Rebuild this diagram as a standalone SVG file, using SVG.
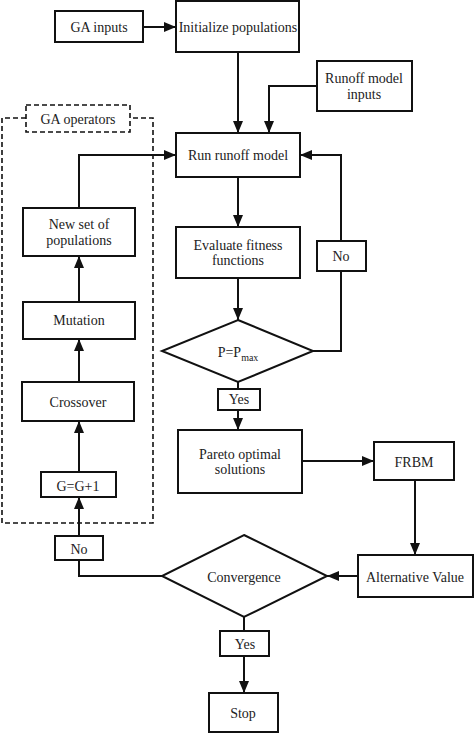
<svg xmlns="http://www.w3.org/2000/svg" width="474" height="733" viewBox="0 0 474 733">
<defs>
<marker id="ah" markerUnits="userSpaceOnUse" markerWidth="13" markerHeight="11" refX="12" refY="5" orient="auto">
<path d="M0,0 L12,5 L0,10 z" fill="#111"/>
</marker>
</defs>
<style>
.box{fill:#fff;stroke:#111;stroke-width:2}
.dash{fill:#fff;stroke:#111;stroke-width:1.6;stroke-dasharray:5,3}
.c{fill:none;stroke:#111;stroke-width:2}
.a{marker-end:url(#ah)}
.t{font-family:'Liberation Serif',serif;font-size:14px;fill:#222;text-anchor:middle}
</style>
<rect width="474" height="733" fill="#fff"/>
<g id="ga-operators-frame">
<path class="dash" style="fill:none" d="M26,118 H2 V523 H153 V118 H130"/>
</g>
<g id="connectors">
<path class="c a" d="M143,27 H176"/>
<path class="c a" d="M238,52 V133"/>
<path class="c a" d="M317,86 H269 V133"/>
<path class="c a" d="M238,177 V227"/>
<path class="c a" d="M238,278 V320"/>
<path class="c" d="M238,382 V389"/>
<path class="c a" d="M238,410 V430"/>
<path class="c" d="M313,351 H341 V271"/>
<path class="c a" d="M341,241 V155 H300"/>
<path class="c a" d="M302,461 H374"/>
<path class="c a" d="M415,480 V555"/>
<path class="c a" d="M358,576 H327"/>
<path class="c" d="M162,576 H79 V560"/>
<path class="c a" d="M79,536 V497"/>
<path class="c a" d="M79,472 V421"/>
<path class="c a" d="M79,382 V339"/>
<path class="c a" d="M79,302 V256"/>
<path class="c a" d="M79,208 V155 H176"/>
<path class="c" d="M244,617 V631"/>
<path class="c a" d="M244,656 V693"/>
</g>
<g id="ga-operators"><rect class="dash" x="26" y="105" width="104" height="27"/><text class="t" x="78" y="124">GA operators</text></g>
<g id="ga-inputs"><rect class="box" x="55" y="11" width="88" height="31"/><text class="t" x="99" y="32">GA inputs</text></g>
<g id="initialize"><rect class="box" x="176" y="1" width="123" height="51"/><text class="t" x="238" y="32">Initialize populations</text></g>
<g id="runoff-inputs"><rect class="box" x="317" y="61" width="95" height="50"/><text class="t" x="364" y="83">Runoff model</text><text class="t" x="364" y="99">inputs</text></g>
<g id="run-runoff"><rect class="box" x="176" y="133" width="124" height="44"/><text class="t" x="238" y="160">Run runoff model</text></g>
<g id="evaluate"><rect class="box" x="176" y="227" width="124" height="51"/><text class="t" x="238" y="250">Evaluate fitness</text><text class="t" x="238" y="265">functions</text></g>
<g id="no-upper"><rect class="box" x="317" y="241" width="49" height="30"/><text class="t" x="341" y="261">No</text></g>
<g id="p-pmax"><path class="box" d="M238,320 L313,351 L238,382 L162,351 z"/><text class="t" x="238" y="357">P=P<tspan font-size="10" dy="4">max</tspan></text></g>
<g id="yes-upper"><rect class="box" x="218" y="389" width="42" height="21"/><text class="t" x="239" y="404">Yes</text></g>
<g id="pareto"><rect class="box" x="178" y="430" width="124" height="63"/><text class="t" x="240" y="459">Pareto optimal</text><text class="t" x="240" y="474">solutions</text></g>
<g id="frbm"><rect class="box" x="374" y="442" width="80" height="38"/><text class="t" x="414" y="467">FRBM</text></g>
<g id="new-set"><rect class="box" x="23" y="208" width="112" height="48"/><text class="t" x="79" y="229">New set of</text><text class="t" x="79" y="245">populations</text></g>
<g id="mutation"><rect class="box" x="23" y="302" width="112" height="37"/><text class="t" x="79" y="325">Mutation</text></g>
<g id="crossover"><rect class="box" x="22" y="382" width="112" height="39"/><text class="t" x="78" y="407">Crossover</text></g>
<g id="g-plus"><rect class="box" x="41" y="472" width="75" height="25"/><text class="t" x="78" y="491">G=G+1</text></g>
<g id="no-lower"><rect class="box" x="55" y="536" width="48" height="24"/><text class="t" x="79" y="554">No</text></g>
<g id="convergence"><path class="box" d="M244,535 L327,576 L244,617 L162,576 z"/><text class="t" x="244" y="582">Convergence</text></g>
<g id="alternative"><rect class="box" x="358" y="555" width="115" height="42"/><text class="t" x="415" y="582">Alternative Value</text></g>
<g id="yes-lower"><rect class="box" x="220" y="631" width="49" height="25"/><text class="t" x="245" y="649">Yes</text></g>
<g id="stop"><rect class="box" x="209" y="693" width="69" height="39"/><text class="t" x="243" y="718">Stop</text></g>
</svg>
